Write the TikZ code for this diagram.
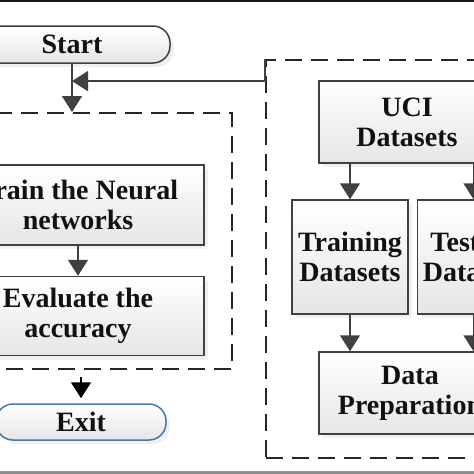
\documentclass[tikz,border=0pt]{standalone}
\usepackage{fontspec}
\setmainfont{Liberation Serif}
\usepackage{xcolor}
\usepackage{tikz}
\usetikzlibrary{shapes.geometric, arrows.meta, positioning, calc, shadows}
\definecolor{boxline}{HTML}{404040}
\definecolor{exitline}{HTML}{4A78A6}
\definecolor{darktext}{HTML}{111111}

\tikzset{
  flowbox/.style={draw=boxline, line width=1.5pt, top color=white, bottom color=black!10,
    inner sep=0pt, align=center, text=darktext,
    drop shadow={opacity=0.12, shadow xshift=4pt, shadow yshift=-4pt}},
  termbox/.style={flowbox, rounded corners=17pt},
  groupbox/.style={draw=black!85, line width=2pt, dash pattern=on 17pt off 9pt, inner sep=0pt},
  arr/.style={-{Triangle[width=20pt, length=16pt]}, boxline, line width=1.6pt},
}

\begin{document}
\begin{tikzpicture}[x=1pt, y=-1pt, node distance=30pt,
  every node/.style={font=\fontsize{28}{30}\selectfont\bfseries}]
  \useasboundingbox (0,0) rectangle (474,474);
  \clip (0,0) rectangle (474,474);
  \fill[black!90] (0,0) rectangle (474,2);
  \fill[black!45] (0,471) rectangle (474,474);

  % left column
  \node[termbox, minimum width=196pt, minimum height=37pt] (start) at (72,44.5) {Start};
  \node[groupbox, minimum width=252pt, minimum height=256pt] (train group) at (106,241) {};
  \node[flowbox, minimum width=252pt, minimum height=80pt] (train) at (78,205) {Train the Neural\\networks};
  \node[flowbox, minimum width=252pt, minimum height=79pt, below=30pt of train] (eval) {Evaluate the\\accuracy};
  \node[termbox, draw=exitline, minimum width=170pt, minimum height=36pt] (exit) at (81,422) {Exit};

  % right column
  \node[groupbox, minimum width=274pt, minimum height=398pt] (data group) at (403,259) {};
  \node[flowbox, minimum width=176pt, minimum height=82pt] (uci) at (407,122) {UCI\\Datasets};
  \node[flowbox, minimum width=116pt, minimum height=114pt] (training) at (350,257) {Training\\Datasets};
  \node[flowbox, minimum width=112pt, minimum height=114pt, right=8pt of training] (testing) {Testing\\Datasets};
  \node[flowbox, minimum width=182pt, minimum height=82pt] (prep) at (410,393) {Data\\Preparation};

  \draw[arr] (start.south) -- (start.south |- train group.north);
  \draw[arr] (data group.north west) |- ($(start.south)!0.36!(start.south |- train group.north)$);
  \draw[arr] (train) -- (eval);
  \draw[arr, black, shorten <=7pt, shorten >=5pt] (train group.south -| exit.north) -- (exit.north);
  \draw[arr] (uci.south -| training.north) -- (training.north);
  \draw[arr] (uci.south -| testing.north) -- (testing.north);
  \draw[arr] (training.south) -- (training.south |- prep.north);
  \draw[arr] (testing.south) -- (testing.south |- prep.north);
\end{tikzpicture}
\end{document}
